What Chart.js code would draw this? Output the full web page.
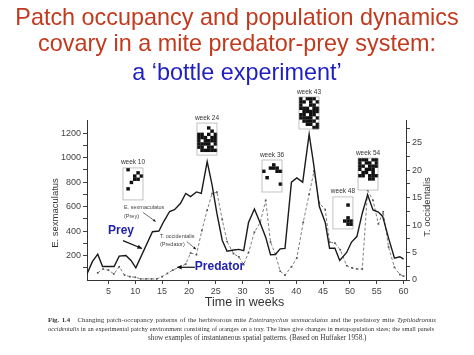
<!DOCTYPE html>
<html><head><meta charset="utf-8">
<script src="https://cdn.jsdelivr.net/npm/chart.js@4/dist/chart.umd.min.js"></script>
<style>
html,body{margin:0;padding:0;background:#fff;width:474px;height:355px;overflow:hidden;}
#wrap{position:relative;width:474px;height:355px;}
#c{position:absolute;left:0;top:0;}
.t{position:absolute;left:0;width:474px;text-align:center;font-family:"Liberation Sans",Arial,sans-serif;font-size:23.4px;line-height:26px;white-space:nowrap;}
.cap{position:absolute;font-family:"Liberation Serif","Times New Roman",serif;font-size:6.9px;line-height:8px;color:#333;white-space:nowrap;}
.j{text-align:justify;text-align-last:justify;}
</style></head><body>
<div id="wrap">
<canvas id="c" width="474" height="355"></canvas>
<div class="t" style="top:4px;color:#c23a1e">Patch occupancy and population dynamics</div>
<div class="t" style="top:30px;color:#c23a1e">covary in a mite predator-prey system:</div>
<div class="t" style="top:59px;color:#1f1fc0">a ‘bottle experiment’</div>
<div class="cap j" style="left:48px;top:316px;width:388px;"><b>Fig. 1.4</b>&nbsp;&nbsp; Changing patch-occupancy patterns of the herbivorous mite <i>Eotetranychus sexmaculatus</i> and the predatory mite <i>Typhlodromus</i></div>
<div class="cap j" style="left:48px;top:325px;width:386px;font-size:6.4px;"><i>occidentalis</i> in an experimental patchy environment consisting of oranges on a tray. The lines give changes in metapopulation sizes; the small panels</div>
<div class="cap" style="left:148px;top:334px;font-size:7.2px;">show examples of instantaneous spatial patterns. (Based on Huffaker 1958.)</div>
</div>
<script>
// ---- data ----
const preyWeeks  = [1,2,3,3.9,5,6.05,7,8.25,9.2,10.1,13.2,14.4,15.3,16.4,17.3,18.4,19.4,20.3,21.4,22.3,23.4,24.3,25.2,26.2,27.1,28.3,29.3,30.2,31.1,32.2,33.3,34.3,35.2,36.1,37,37.9,39.1,40.1,41.2,42.4,43.2,44.3,45.4,46.2,47.2,48.1,49.4,50.3,51.3,52.3,53.3,54.3,55.3,56.1,57.2,58.3,59.3,60];
const preyCounts = [50,150,211,110,110,110,195,200,160,100,395,400,478,560,575,625,708,682,720,708,968,780,546,325,235,245,250,240,470,580,464,350,206,208,255,258,800,835,800,1192,960,600,470,260,260,160,225,310,355,546,696,573,555,520,342,179,190,170];
const predWeeks  = [3,4,5,6,7,8,9,10,11,12,13,14,15,16,17,18.4,19.4,20.3,21.4,22.4,23.4,24.3,25.2,26.2,27.1,28.3,29.3,30.2,31.1,32.2,33.3,34.3,35.2,36.1,37,37.9,39.1,40.1,41.3,42.4,43.3,44.3,45.4,46.2,47.2,48.2,49.4,50.4,51.3,52.3,53.3,54.3,55.3,56.2,57.2,58.3,59.3,60];
const predCounts = [1.3,2.0,1.8,1.1,2.4,0.9,0.6,0.5,0.2,0.2,0.2,0.2,0.6,1.2,1.8,2.4,2.9,4.9,4.6,9.0,12.7,15.7,16.0,11.0,7.0,4.8,4.2,2.8,5.0,8.7,10.5,14.5,6.9,4.7,1.6,0.9,2.4,4.0,10.5,15.6,19.8,14.0,12.8,6.9,6.7,5.5,2.6,2.2,2.0,2.0,16.3,14.5,10.2,12.4,6.0,2.3,1.0,0.7];
const xTickValues     = [5,10,15,20,25,30,35,40,45,50,55,60];
const leftTickValues  = [100,200,300,400,500,600,700,800,900,1000,1100,1200];
const leftTickLabels  = [200,400,600,800,1000,1200];
const rightTickValues = [0,2.5,5,7.5,10,12.5,15,17.5,20,22.5,25,27.5];
const rightTickLabels = [0,5,10,15,20,25];
const insetNames = ['week 10','week 24','week 36','week 43','week 48','week 54'];
const insetPatterns = [
 ["010000","000010","000101","000110","001000","000000","010000","000000","000000","000000"],
 ["000000","000100","000010","110101","111011","101111","111101","110110","011111","000000"],
 ["000000","000100","001110","100011","000000","010000","000000","000001","000000","000000"],
 ["101110","110101","100110","111011","011111","110110","111101","011110","001101","000011"],
 ["000000","000000","000010","000000","000000","000000","000010","000111","000011","000000"],
 ["111011","101101","110111","101110","011010","110111","000110","000000","000000","000000"]
];

// ---- layout of decorations (in data coordinates: week, prey count) ----
const insetAnchors = [[9.57,916],[23.36,1283],[35.48,981],[42.37,1496],[48.7,679],[53.37,997]];

const FONT = '"Liberation Sans", Arial, sans-serif';

function arrow(ctx, x1, y1, x2, y2, head, w){
  ctx.save();
  ctx.strokeStyle = '#111'; ctx.fillStyle = '#111'; ctx.lineWidth = w;
  ctx.beginPath(); ctx.moveTo(x1,y1); ctx.lineTo(x2,y2); ctx.stroke();
  const a = Math.atan2(y2-y1, x2-x1);
  ctx.beginPath();
  ctx.moveTo(x2,y2);
  ctx.lineTo(x2 - head*Math.cos(a-0.45), y2 - head*Math.sin(a-0.45));
  ctx.lineTo(x2 - head*Math.cos(a+0.45), y2 - head*Math.sin(a+0.45));
  ctx.closePath(); ctx.fill();
  ctx.restore();
}

const decor = {
  id: 'decor',
  afterDatasetsDraw(chart){
    const ctx = chart.ctx, X = chart.scales.x, Y = chart.scales.yL;
    const px = w => X.getPixelForValue(w), py = v => Y.getPixelForValue(v);
    ctx.save();
    insetAnchors.forEach((an, k) => {
      const cx = px(an[0]), top = py(an[1]);
      const bw = 20, bh = 32, left = cx - bw/2;
      ctx.fillStyle = '#fff'; ctx.fillRect(left, top, bw, bh);
      const pat = insetPatterns[k];
      const cw = bw/pat[0].length, ch = bh/pat.length;
      ctx.fillStyle = '#111';
      pat.forEach((row, r) => { for (let c=0;c<row.length;c++) if (row[c]==='1') ctx.fillRect(left+c*cw, top+r*ch, cw+0.2, ch+0.2); });
      ctx.strokeStyle = '#999'; ctx.lineWidth = 0.6; ctx.strokeRect(left, top, bw, bh);
      ctx.fillStyle = '#333'; ctx.font = '6.5px ' + FONT; ctx.textAlign = 'center'; ctx.textBaseline = 'bottom';
      ctx.fillText(insetNames[k], cx, top - 2);
    });
    ctx.fillStyle = '#444'; ctx.font = '5.5px ' + FONT; ctx.textAlign = 'left'; ctx.textBaseline = 'middle';
    ctx.fillText('E. sexmaculatus', px(7.9), py(589));
    ctx.fillText('(Prey)', px(7.9), py(523));
    ctx.fillText('T. occidentalis', px(14.6), py(352));
    ctx.fillText('(Predator)', px(14.6), py(294));
    arrow(ctx, px(11.45), py(552), px(13.8), py(478), 3, 0.6);
    arrow(ctx, px(19.6), py(314), px(21.3), py(252), 3, 0.6);
    ctx.fillStyle = '#2323b0'; ctx.font = 'bold 12px ' + FONT;
    ctx.textAlign = 'center'; ctx.fillText('Prey', px(7.34), py(401));
    ctx.textAlign = 'left'; ctx.fillText('Predator', px(21.1), py(106));
    arrow(ctx, px(7.7), py(322), px(11.25), py(258), 5, 1.2);
    arrow(ctx, px(21.1), py(104), px(17.8), py(104), 5, 1.2);
    ctx.fillStyle = '#333'; ctx.font = '12.5px ' + FONT; ctx.textAlign = 'center'; ctx.textBaseline = 'middle';
    ctx.fillText('Time in weeks', (X.left + X.right)/2 - 2, 303);
    ctx.font = '9.5px ' + FONT;
    ctx.save(); ctx.translate(55, 213); ctx.rotate(-Math.PI/2); ctx.fillText('E. sexmaculatus', 0, 0); ctx.restore();
    ctx.save(); ctx.translate(427, 207); ctx.rotate(-Math.PI/2); ctx.fillText('T. occidentalis', 0, 0); ctx.restore();
    ctx.restore();
  }
};

const tickFont = { family: FONT, size: 9 };
const axisCommon = {
  grid: { drawOnChartArea: false, drawTicks: true, tickLength: 4, color: '#444' },
  border: { display: true, color: '#333', width: 1 }
};

new Chart(document.getElementById('c'), {
  type: 'line',
  data: {
    datasets: [
      { label: 'E. sexmaculatus (Prey)', yAxisID: 'yL',
        data: preyWeeks.map((w,i) => ({x: w, y: preyCounts[i]})),
        borderColor: '#1a1a1a', borderWidth: 1.4, pointRadius: 0, tension: 0, fill: false },
      { label: 'T. occidentalis (Predator)', yAxisID: 'yR',
        data: predWeeks.map((w,i) => ({x: w, y: predCounts[i]})),
        borderColor: '#808080', borderWidth: 1, borderDash: [3,2], tension: 0, fill: false,
        pointStyle: 'rect', pointRadius: 1.2, pointBackgroundColor: '#555', pointBorderWidth: 0 }
    ]
  },
  options: {
    responsive: false, animation: false,
    layout: { padding: { top: 120, left: 0, right: 0, bottom: 0 } },
    plugins: { legend: { display: false }, tooltip: { enabled: false }, title: { display: false } },
    scales: {
      x: Object.assign({}, axisCommon, {
        type: 'linear', position: 'bottom', min: 1, max: 60.45,
        afterBuildTicks: s => { s.ticks = xTickValues.map(v => ({value: v})); },
        afterFit: s => { s.height = 75; },
        ticks: { font: tickFont, color: '#444', padding: 2, maxRotation: 0, autoSkip: false }
      }),
      yL: Object.assign({}, axisCommon, {
        type: 'linear', position: 'left', min: 0, max: 1308,
        afterBuildTicks: s => { s.ticks = leftTickValues.map(v => ({value: v})); },
        afterFit: s => { s.width = 87; },
        ticks: { font: tickFont, color: '#444', padding: 2, autoSkip: false,
          callback: v => leftTickLabels.includes(v) ? String(v) : '' }
      }),
      yR: Object.assign({}, axisCommon, {
        type: 'linear', position: 'right', min: 0, max: 29.1,
        afterBuildTicks: s => { s.ticks = rightTickValues.map(v => ({value: v})); },
        afterFit: s => { s.width = 68; },
        ticks: { font: tickFont, color: '#444', padding: 2, autoSkip: false,
          callback: v => rightTickLabels.includes(v) ? String(v) : '' }
      })
    }
  },
  plugins: [decor]
});
</script>
</body></html>
